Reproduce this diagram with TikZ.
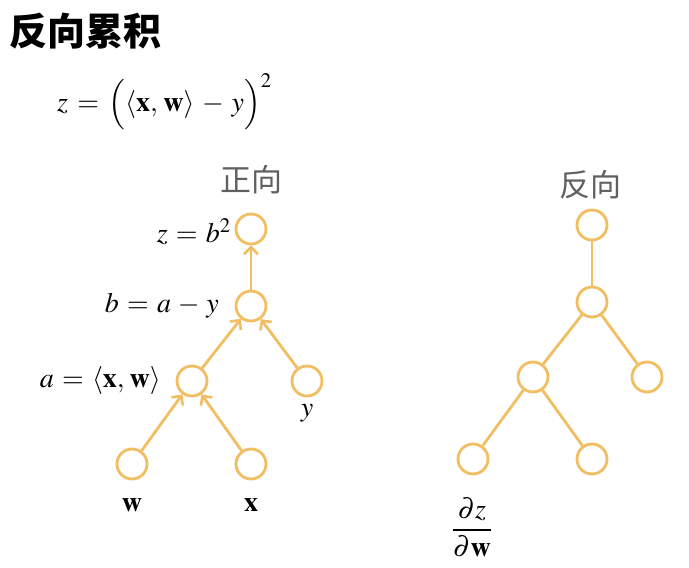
\documentclass[tikz,border=0pt]{standalone}
\usepackage{amsmath}
\usepackage{mathptmx}
\usepackage{fontspec}
\setmainfont{Liberation Serif}
\newfontfamily\cjk{Noto Sans CJK SC}
\usetikzlibrary{arrows.meta}
\definecolor{nodeor}{HTML}{F2BE62}
\definecolor{labgray}{HTML}{606060}
\newcommand{\widemath}{\thickmuskip=6mu\medmuskip=5mu\thinmuskip=3.5mu}
\newcommand{\labmath}{\thickmuskip=5.3mu\medmuskip=4.3mu\thinmuskip=3.2mu}
\begin{document}
\begin{tikzpicture}[x=1pt,y=-1pt,
  vert/.style={circle,draw=nodeor,line width=2.8pt,minimum size=30pt,inner sep=0pt},
  edge/.style={draw=nodeor,line width=2.8pt},
  fwd/.style={edge,-{Straight Barb[length=7pt,width=14pt,line width=2.6pt]}},
  mlab/.style={font=\fontsize{28}{32}\selectfont\labmath,inner sep=0pt},
  head/.style={font=\cjk\fontsize{31}{34}\selectfont,text=labgray,inner sep=0pt}]
\useasboundingbox[fill=white] (0,0) rectangle (689,568);
% title and formula
\node[anchor=west,inner sep=0pt,font=\cjk\bfseries\fontsize{38}{42}\selectfont] (title) at (9,31) {反向累积};
\node[mlab,anchor=west,font=\fontsize{28}{32}\selectfont\widemath] (formula) at (57,102) {$z=\Bigl(\langle\mathbf{x},\mathbf{w}\rangle-y\Bigr)^{2}$};
% forward tree
\node[head] (hf) at (251,180) {正向};
\node[vert] (z) at (251,229) {};
\node[vert] (b) at (251,306) {};
\node[vert] (a) at (192,381) {};
\node[vert] (y) at (307,381) {};
\node[vert] (w) at (132,464) {};
\node[vert] (x) at (251,464) {};
\draw[fwd] (b) -- (z);
\draw[fwd] (a) -- (b);
\draw[fwd] (y) -- (b);
\draw[fwd] (w) -- (a);
\draw[fwd] (x) -- (a);
\node[mlab,anchor=east] (lz) at (231,232) {$z=b^2$};
\node[mlab,anchor=east] (lb) at (219,306) {$b=a-y$};
\node[mlab,anchor=east] (la) at (161,381) {$a=\langle\mathbf{x},\mathbf{w}\rangle$};
\node[mlab] (ly) at (307,413) {$y$};
\node[mlab] (lw) at (132,505) {$\mathbf{w}$};
\node[mlab] (lx) at (251,505) {$\mathbf{x}$};
% backward tree
\node[head] (hb) at (590,185) {反向};
\node[vert] (r1) at (592,225) {};
\node[vert] (r2) at (592,302) {};
\node[vert] (r3) at (533,377) {};
\node[vert] (r4) at (647,377) {};
\node[vert] (r5) at (473,459) {};
\node[vert] (r6) at (592,459) {};
\draw[edge] (r1) -- (r2);
\draw[edge] (r2) -- (r3);
\draw[edge] (r2) -- (r4);
\draw[edge] (r3) -- (r5);
\draw[edge] (r3) -- (r6);
\node[mlab] (lg) at (472,527) {$\dfrac{\partial z}{\partial\mathbf{w}}$};
\end{tikzpicture}
\end{document}
